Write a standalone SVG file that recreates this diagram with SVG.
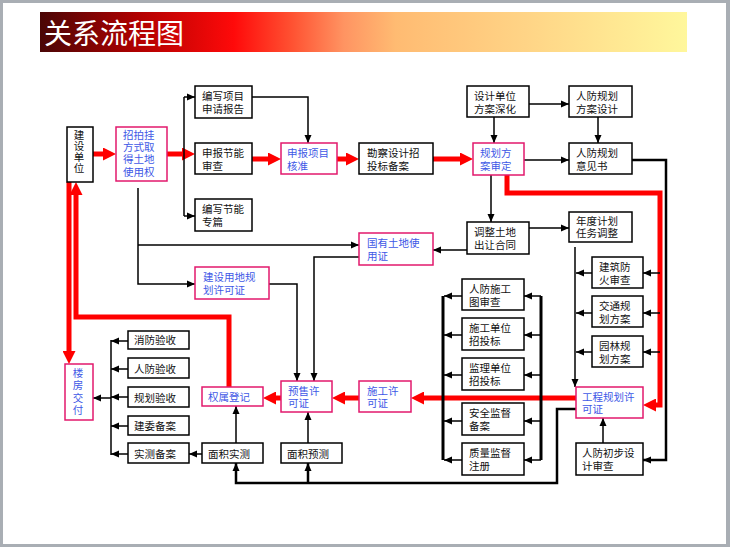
<svg xmlns="http://www.w3.org/2000/svg" width="730" height="547" viewBox="0 0 730 547">
<defs>
<linearGradient id="bg" x1="0" y1="0" x2="1" y2="0">
<stop offset="0" stop-color="#4a0606"/>
<stop offset="0.15" stop-color="#b00000"/>
<stop offset="0.3" stop-color="#ff0a0a"/>
<stop offset="0.39" stop-color="#ff5232"/>
<stop offset="0.47" stop-color="#ff9462"/>
<stop offset="0.55" stop-color="#ffbb72"/>
<stop offset="0.75" stop-color="#ffd486"/>
<stop offset="1" stop-color="#fff79c"/>
</linearGradient>
<marker id="a" markerUnits="userSpaceOnUse" markerWidth="8" markerHeight="8" viewBox="0 0 8 8" refX="8" refY="4" orient="auto"><path d="M0,0.5 L8,4 L0,7.5 z" fill="#000"/></marker>
<marker id="r" markerUnits="userSpaceOnUse" markerWidth="13" markerHeight="13" viewBox="0 0 13 13" refX="6" refY="6.5" orient="auto"><path d="M0,0 L13,6.5 L0,13 z" fill="#ff0000"/></marker>
<style>
.b rect{fill:#fff;stroke:#000;stroke-width:1.5}
.p rect{fill:#fff;stroke:#e2186c;stroke-width:1.5}
text{font-family:"Liberation Sans","Noto Sans CJK SC",sans-serif;font-size:10.5px;fill:#111}
.p text{fill:#4058e6}
.k{fill:none;stroke:#000;stroke-width:1.5}
.kw{fill:none;stroke:#000;stroke-width:2.5}
.kb{fill:none;stroke:#000;stroke-width:3}
.ka{marker-end:url(#a)}
.rd{fill:none;stroke:#ff0000;stroke-width:5;marker-end:url(#r)}
.v{text-anchor:middle}
</style>
</defs>
<rect x="0" y="0" width="730" height="547" fill="#a9aeb4"/>
<rect x="3" y="3" width="723" height="541" fill="#fff"/>
<g id="title">
<rect x="40" y="12" width="647" height="40" fill="url(#bg)"/>
<text x="44" y="44" style="font-size:28px;fill:#fff">关系流程图</text>
</g>

<g id="connectors">
<path class="rd" d="M93,154 H109"/>
<path class="rd" d="M167,154 H188"/>
<path class="rd" d="M252,159 H274"/>
<path class="rd" d="M337,159 H352"/>
<path class="rd" d="M433,159 H466"/>
<path class="rd" d="M507,175 V193 H660 V405 H650"/>
<path class="rd" d="M576,398 H418"/>
<path class="rd" d="M359,398 H339"/>
<path class="rd" d="M281,398 H270"/>
<path class="rd" d="M229,387 V317 H76 V189"/>
<path class="rd" d="M69,182 V357"/>
<path class="k" d="M184,97 V216"/>
<path class="k ka" d="M184,97 H195"/>
<path class="k ka" d="M184,216 H195"/>
<path class="k ka" d="M252,97 H308 V143"/>
<path class="k ka" d="M529,104 H569"/>
<path class="k ka" d="M494,117 V143"/>
<path class="k ka" d="M598,117 V143"/>
<path class="k ka" d="M524,160 H569"/>
<path class="k ka" d="M491,175 V222"/>
<path class="k ka" d="M529,228 H569"/>
<path class="k ka" d="M467,250 H433"/>
<path class="kw ka" d="M632,160 H666 V460 H643"/>
<path class="k ka" d="M575,247 V387"/>
<path class="k ka" d="M592,273 H576"/>
<path class="k ka" d="M592,313 H576"/>
<path class="k ka" d="M592,352 H576"/>
<path class="k ka" d="M660,273 H643"/>
<path class="k ka" d="M660,313 H643"/>
<path class="k ka" d="M660,352 H643"/>
<path class="k ka" d="M603,443 V418"/>
<path class="kw ka" d="M576,409 H557 V483 H236 V463"/>
<path class="kw ka" d="M308,483 V463"/>
<path class="k ka" d="M138,188 V284 H195"/>
<path class="k ka" d="M138,245 H359"/>
<path class="k ka" d="M269,284 H297 V381"/>
<path class="k ka" d="M359,257 H314 V381"/>
<path class="k ka" d="M236,443 V406"/>
<path class="k ka" d="M308,443 V412"/>
<path class="k ka" d="M202,454 H189"/>
<path class="k" d="M111,340 V455"/>
<path class="k ka" d="M128,341 H111"/>
<path class="k ka" d="M128,369 H111"/>
<path class="k ka" d="M128,397 H111"/>
<path class="k ka" d="M128,426 H111"/>
<path class="k ka" d="M128,454 H111"/>
<path class="k ka" d="M111,398 H93"/>
<path class="kb" d="M443,296 V460"/>
<path class="kb" d="M541,296 V460"/>
<path class="k ka" d="M462,296 H444"/>
<path class="k ka" d="M462,335 H444"/>
<path class="k ka" d="M462,375 H444"/>
<path class="k ka" d="M462,421 H444"/>
<path class="k ka" d="M462,460 H444"/>
<path class="k ka" d="M541,296 H524"/>
<path class="k ka" d="M541,335 H524"/>
<path class="k ka" d="M541,375 H524"/>
<path class="k ka" d="M541,421 H524"/>
<path class="k ka" d="M541,460 H524"/>
</g>

<g id="n1" class="b"><rect x="67" y="127" width="26" height="55"/><text class="v" x="79" y="139">建<tspan x="79" dy="11">设</tspan><tspan x="79" dy="11">单</tspan><tspan x="79" dy="11">位</tspan></text></g>
<g id="n2" class="p"><rect x="116" y="127" width="51" height="54"/><text x="123" y="138.5">招拍挂<tspan x="123" dy="12.4">方式取</tspan><tspan x="123" dy="12.4">得土地</tspan><tspan x="123" dy="12.4">使用权</tspan></text></g>
<g id="n3" class="b"><rect x="195" y="86" width="57" height="32"/><text x="202" y="100">编写项目<tspan x="202" dy="12.5">申请报告</tspan></text></g>
<g id="n4" class="b"><rect x="195" y="143" width="57" height="31"/><text x="202" y="157">申报节能<tspan x="202" dy="12.5">审查</tspan></text></g>
<g id="n5" class="b"><rect x="195" y="199" width="57" height="32"/><text x="202" y="213">编写节能<tspan x="202" dy="12.5">专篇</tspan></text></g>
<g id="n6" class="p"><rect x="281" y="143" width="56" height="31"/><text x="287" y="157">申报项目<tspan x="287" dy="12.5">核准</tspan></text></g>
<g id="n7" class="b"><rect x="359" y="143" width="74" height="31"/><text x="367" y="157">勘察设计招<tspan x="367" dy="12.5">投标备案</tspan></text></g>
<g id="n8" class="b"><rect x="467" y="86" width="62" height="31"/><text x="474" y="100">设计单位<tspan x="474" dy="12.5">方案深化</tspan></text></g>
<g id="n9" class="b"><rect x="569" y="86" width="63" height="31"/><text x="576" y="100">人防规划<tspan x="576" dy="12.5">方案设计</tspan></text></g>
<g id="n10" class="p"><rect x="473" y="143" width="51" height="32"/><text x="480" y="157">规划方<tspan x="480" dy="12.5">案审定</tspan></text></g>
<g id="n11" class="b"><rect x="569" y="143" width="63" height="31"/><text x="576" y="157">人防规划<tspan x="576" dy="12.5">意见书</tspan></text></g>
<g id="n12" class="b"><rect x="467" y="222" width="62" height="32"/><text x="474" y="236">调整土地<tspan x="474" dy="12.5">出让合同</tspan></text></g>
<g id="n13" class="b"><rect x="569" y="212" width="63" height="30"/><text x="576" y="224.5">年度计划<tspan x="576" dy="12">任务调整</tspan></text></g>
<g id="n14" class="p"><rect x="359" y="233" width="74" height="32"/><text x="367" y="247">国有土地使<tspan x="367" dy="12.5">用证</tspan></text></g>
<g id="n15" class="p"><rect x="195" y="267" width="74" height="32"/><text x="203" y="281">建设用地规<tspan x="203" dy="12.5">划许可证</tspan></text></g>
<g id="n16" class="b"><rect x="592" y="257" width="51" height="31"/><text x="599" y="271">建筑防<tspan x="599" dy="12.5">火审查</tspan></text></g>
<g id="n17" class="b"><rect x="592" y="296" width="51" height="31"/><text x="599" y="310">交通规<tspan x="599" dy="12.5">划方案</tspan></text></g>
<g id="n18" class="b"><rect x="592" y="336" width="51" height="31"/><text x="599" y="350">园林规<tspan x="599" dy="12.5">划方案</tspan></text></g>
<g id="n19" class="b"><rect x="462" y="279" width="62" height="31"/><text x="469" y="293">人防施工<tspan x="469" dy="12.5">图审查</tspan></text></g>
<g id="n20" class="b"><rect x="462" y="318" width="62" height="32"/><text x="469" y="332">施工单位<tspan x="469" dy="12.5">招投标</tspan></text></g>
<g id="n21" class="b"><rect x="462" y="358" width="62" height="32"/><text x="469" y="372">监理单位<tspan x="469" dy="12.5">招投标</tspan></text></g>
<g id="n22" class="b"><rect x="462" y="403" width="62" height="32"/><text x="469" y="417">安全监督<tspan x="469" dy="12.5">备案</tspan></text></g>
<g id="n23" class="b"><rect x="462" y="443" width="62" height="32"/><text x="469" y="457">质量监督<tspan x="469" dy="12.5">注册</tspan></text></g>
<g id="n24" class="p"><rect x="576" y="387" width="67" height="31"/><text x="582" y="400.5">工程规划许<tspan x="582" dy="12">可证</tspan></text></g>
<g id="n25" class="b"><rect x="576" y="443" width="67" height="32"/><text x="582" y="457">人防初步设<tspan x="582" dy="12.5">计审查</tspan></text></g>
<g id="n26" class="p"><rect x="359" y="381" width="52" height="31"/><text x="367" y="395">施工许<tspan x="367" dy="12">可证</tspan></text></g>
<g id="n27" class="p"><rect x="281" y="381" width="51" height="31"/><text x="288" y="395">预售许<tspan x="288" dy="12">可证</tspan></text></g>
<g id="n28" class="p"><rect x="202" y="387" width="61" height="19"/><text x="208" y="401">权属登记</text></g>
<g id="n29" class="b"><rect x="202" y="443" width="61" height="20"/><text x="208" y="457.5">面积实测</text></g>
<g id="n30" class="b"><rect x="281" y="443" width="61" height="20"/><text x="287" y="457.5">面积预测</text></g>
<g id="n31" class="b"><rect x="128" y="331" width="61" height="18"/><text x="134" y="343.5">消防验收</text></g>
<g id="n32" class="b"><rect x="128" y="358" width="61" height="20"/><text x="134" y="372.5">人防验收</text></g>
<g id="n33" class="b"><rect x="128" y="387" width="61" height="20"/><text x="134" y="401.5">规划验收</text></g>
<g id="n34" class="b"><rect x="128" y="416" width="61" height="19"/><text x="134" y="429.5">建委备案</text></g>
<g id="n35" class="b"><rect x="128" y="443" width="61" height="20"/><text x="134" y="457.5">实测备案</text></g>
<g id="n36" class="p"><rect x="65" y="364" width="28" height="56"/><text class="v" x="78" y="377">楼<tspan x="78" dy="12.3">房</tspan><tspan x="78" dy="12.3">交</tspan><tspan x="78" dy="12.3">付</tspan></text></g>
</svg>
